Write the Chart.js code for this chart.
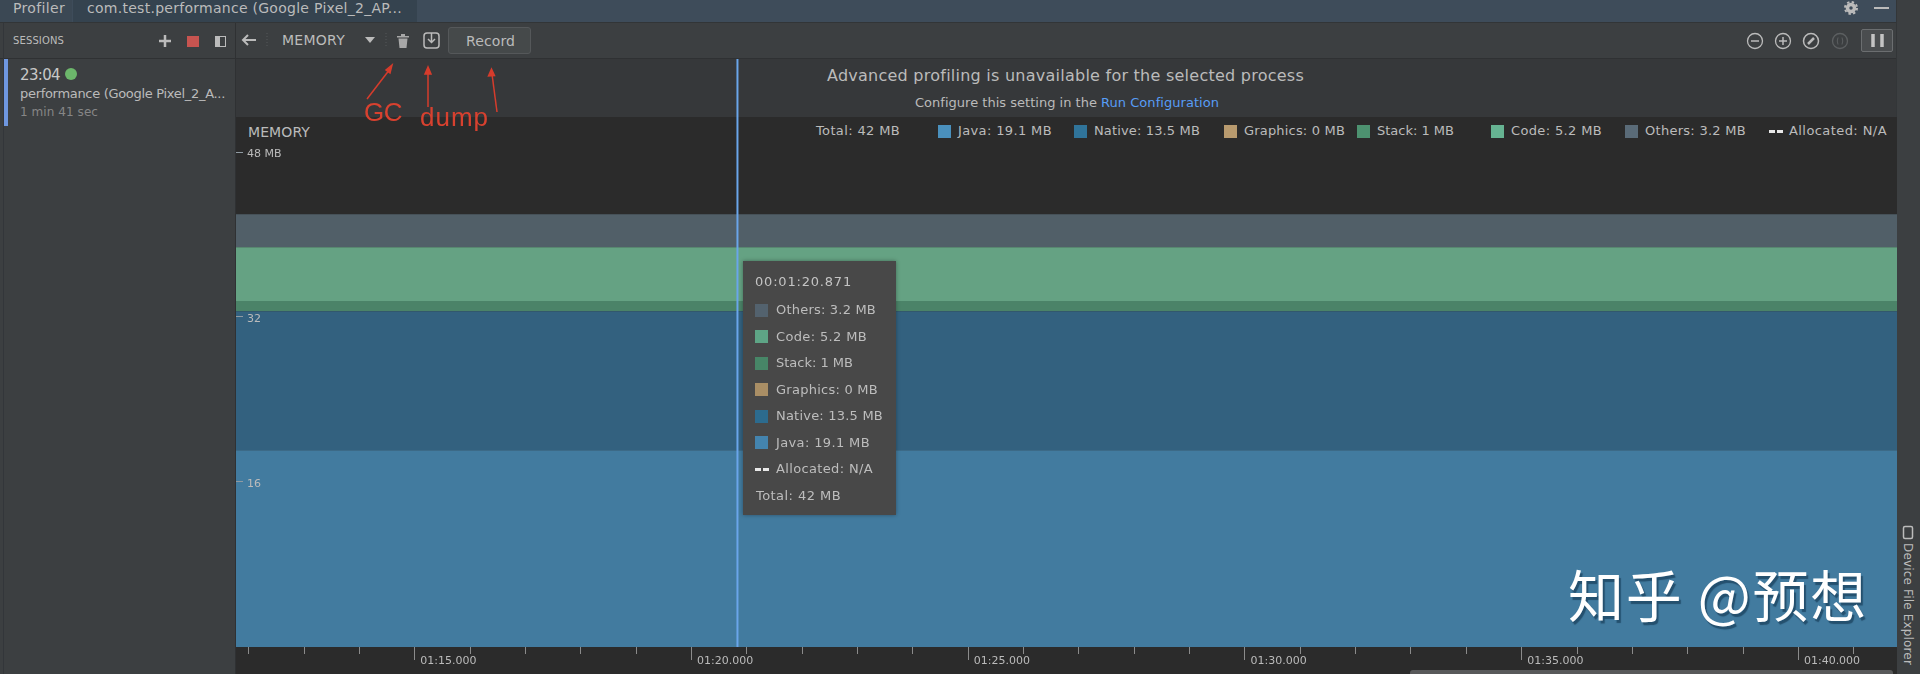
<!DOCTYPE html>
<html lang="en">

<head>
    <meta charset="UTF-8">
    <title>Profiler - Memory</title>
    <script src="https://cdn.jsdelivr.net/npm/chart.js"></script>
    <style>
        html, body { margin: 0; padding: 0; width: 1920px; height: 674px; overflow: hidden; background: #3c3f41; }
        body { font-family: "DejaVu Sans", sans-serif; }
        .box { position: absolute; }
        .txt { position: absolute; white-space: nowrap; transform: translateY(-50%); line-height: 1.2; }
        #chart { position: absolute; left: 0; top: 0; z-index: 2; }
        #under { position: absolute; left: 0; top: 0; z-index: 1; }
        #over { position: absolute; left: 0; top: 0; z-index: 3; }
        svg { position: absolute; left: 0; top: 0; }
    </style>
</head>

<body>
    <div id="under"></div>
    <canvas id="chart" width="1920" height="674"></canvas>
    <div id="over"></div>

    <script>
        const sampleTimes = [71, 76, 81, 86, 91, 96, 102];
        const javaValues = [19.1, 19.1, 19.1, 19.1, 19.1, 19.1, 19.1];
        const nativeValues = [13.5, 13.5, 13.5, 13.5, 13.5, 13.5, 13.5];
        const graphicsValues = [0, 0, 0, 0, 0, 0, 0];
        const stackValues = [1, 1, 1, 1, 1, 1, 1];
        const codeValues = [5.2, 5.2, 5.2, 5.2, 5.2, 5.2, 5.2];
        const othersValues = [3.2, 3.2, 3.2, 3.2, 3.2, 3.2, 3.2];

        const seriesNames = ['Java', 'Native', 'Graphics', 'Stack', 'Code', 'Others'];
        const seriesLast = [19.1, 13.5, 0, 1, 5.2, 3.2];
        const totalValue = 42;
        const cursorTime = 80.84;
        const cursorLabel = '00:01:20.871';
        const yTicks = [16, 32, 48];

        const bandColors = ['#427b9f', '#33617f', '#a98a62', '#4b8368', '#65a283', '#515f68'];
        const swatchColors = ['#4a90bd', '#30749a', '#b89a6e', '#4d9270', '#66b392', '#5a6b78'];

        const under = document.getElementById('under');
        const over = document.getElementById('over');

        function box(parent, x, y, w, h, color, extra) {
            const d = document.createElement('div');
            d.className = 'box';
            d.style.cssText = `left:${x}px;top:${y}px;width:${w}px;height:${h}px;background:${color};${extra || ''}`;
            parent.appendChild(d);
            return d;
        }

        // width = wanted text width, the tracking is fitted to it
        function text(parent, str, x, y, size, color, width, font) {
            const d = document.createElement('div');
            d.className = 'txt';
            d.textContent = str;
            d.style.cssText = `left:${x}px;top:${y}px;font-size:${size}px;color:${color};` + (font ? `font-family:${font};` : '');
            parent.appendChild(d);
            if (width) {
                const w = d.getBoundingClientRect().width;
                d.style.letterSpacing = ((width - w) / str.length) + 'px';
            }
            return d;
        }

        // ide frame
        box(under, 0, 0, 1920, 674, '#3c3f41');
        box(under, 0, 0, 1896, 22, '#3e4c5a');
        box(under, 0, 0, 72, 22, '#3b4854');
        box(under, 73, 0, 344, 22, '#35434f');
        box(under, 0, 22, 1896, 1, '#323537');
        box(under, 236, 23, 1660, 35, '#3c3f41');
        box(under, 0, 58, 1896, 1, '#2f3133');
        box(under, 235, 23, 1, 651, '#2f3133');
        box(under, 3, 23, 1, 651, '#33363a');
        box(under, 1896, 0, 1, 674, '#333638');
        box(under, 236, 59, 1660, 58, '#36383a');
        box(under, 236, 117, 1661, 557, '#2b2b2b');
        box(under, 4, 59, 4, 67, '#6f97e0');
        box(under, 187, 36, 12, 11, '#c75450');
        box(under, 448, 27, 83, 27, '#45494a', 'border:1px solid #55585a;border-radius:3px;box-sizing:border-box;');
        box(under, 1861, 29, 32, 23, '#4a4d4f', 'border:1px solid #6b6e70;border-radius:2px;box-sizing:border-box;');
        box(under, 1410, 670, 483, 4, '#58595a', 'border-radius:3px 3px 0 0;');

        text(under, 'Profiler', 13, 8, 14, '#bbbbbb', 52);
        text(under, 'com.test.performance (Google Pixel_2_AP...', 87, 8, 14, '#bbbbbb', 315);
        text(under, 'SESSIONS', 13, 41, 10, '#bbbbbb', 51);
        text(under, 'MEMORY', 282, 40, 14, '#bbbbbb', 63);
        text(under, 'Record', 466, 41, 14, '#bbbbbb', 49);
        text(under, '23:04', 20, 75, 15, '#c8c8c8', 40);
        box(under, 65, 68, 12, 12, '#6cb76b', 'border-radius:50%;');
        text(under, 'performance (Google Pixel_2_A...', 20, 94, 13, '#bbbbbb', 205);
        text(under, '1 min 41 sec', 20, 112, 12, '#868686', 78);
        text(under, 'Advanced profiling is unavailable for the selected process', 827, 76, 16, '#bbbbbb', 477);
        text(under, 'Configure this setting in the ', 915, 103, 13, '#bbbbbb', 182);
        text(under, 'Run Configuration', 1101, 103, 13, '#589df6', 118);
        text(under, 'MEMORY', 248, 132, 14, '#bbbbbb', 62);

        // legend row
        const legendX = [938, 1074, 1224, 1357, 1491, 1625];
        const legendW = [94, 106, 101, 77, 91, 101];
        text(under, `Total: ${totalValue} MB`, 816, 131, 13, '#bbbbbb', 84);
        seriesNames.forEach((name, i) => {
            box(under, legendX[i], 125, 13, 13, swatchColors[i]);
            text(under, `${name}: ${seriesLast[i]} MB`, legendX[i] + 20, 131, 13, '#bbbbbb', legendW[i]);
        });
        box(under, 1769, 130, 6, 3, '#e8e8e8');
        box(under, 1777, 130, 6, 3, '#e8e8e8');
        text(under, 'Allocated: N/A', 1789, 131, 13, '#bbbbbb', 98);

        // side tab
        const side = text(under, 'Device File Explorer', 1908, 604, 12, '#bbbbbb', 122);
        side.style.transform = 'translate(-50%,-50%) rotate(90deg)';

        // toolbar icons + red notes
        const ns = `<svg width="1920" height="674" xmlns="http://www.w3.org/2000/svg">
            <g stroke="#bbbbbb" stroke-width="2" fill="none">
                <path d="M159 41h12M165 35v12" stroke-width="2.5"/>
                <rect x="215.500" y="36.500" width="10" height="10" stroke-width="1"/>
                <rect x="216" y="37" width="4" height="9" fill="#bbbbbb" stroke="none"/>
                <path d="M256 40h-13M248 35l-5 5 5 5"/>
                <rect x="424" y="33" width="15" height="15" rx="3" stroke-width="1.5"/>
                <path d="M431.500 33v9M428 39l3.500 3.500L435 39" stroke-width="1.5"/>
                <circle cx="1755" cy="41" r="7.500" stroke-width="1.300"/><path d="M1751 41h8" stroke-width="1.500"/>
                <circle cx="1783" cy="41" r="7.500" stroke-width="1.300"/><path d="M1779 41h8M1783 37v8" stroke-width="1.500"/>
                <circle cx="1811" cy="41" r="7.500" stroke-width="1.500"/><path d="M1808 44l6-6" stroke-width="2.500"/>
                <circle cx="1840" cy="41" r="7.500" stroke-width="1.300" stroke="#5c5f61"/>
                <path d="M1838 37.500q-1.500 3.500 0 7M1842 37.500q1.500 3.500 0 7" stroke-width="1" stroke="#5c5f61"/>
                <path d="M1873 34v13M1882 34v13" stroke-width="3.500" stroke="#c4c4c4"/>
                <path d="M1874 8h15" stroke-width="2"/>
                <circle cx="1851" cy="8" r="3.500" stroke-width="3.500"/>
                <circle cx="1851" cy="8" r="6" stroke-width="2" stroke-dasharray="2.400 2.310"/>
                <rect x="1903.500" y="526.500" width="9" height="12" rx="1.500" stroke-width="1.500"/>
            </g>
            <path d="M365 37h10l-5 6z" fill="#bbbbbb"/>
            <path d="M397 36h12v1.500h-12zM398.500 38.500h9l-1 9.500h-7zM401 34h4v2h-4z" fill="#a8a8a8"/>
            <path d="M267 33v15M386 33v15" stroke="#55585a" stroke-dasharray="1 2"/>
        </svg>`;
        under.insertAdjacentHTML('beforeend', ns);

        const notes = `<svg width="1920" height="674" xmlns="http://www.w3.org/2000/svg">
            <g stroke="#d63c2c" stroke-width="1.500" fill="#d63c2c">
                <path d="M367 99L390 69"/><path d="M392 65l-6 5 4 3z"/>
                <path d="M428 107V72"/><path d="M428 67l-3 7h6z"/>
                <path d="M497 112L492 74"/><path d="M491.500 69l-3 7 6-.5z"/>
            </g>
        </svg>`;
        over.insertAdjacentHTML('beforeend', notes);
        text(over, 'GC', 364, 113, 26, '#d8412f', 38, '"Liberation Sans"');
        text(over, 'dump', 420, 118, 26, '#d8412f', 69, '"Liberation Sans"');

        // tooltip
        box(over, 743, 261, 153, 254, '#484848', 'box-shadow:0 0 4px rgba(0,0,0,.35);');
        text(over, cursorLabel, 755, 282, 13, '#c4c4c4', 97);
        const tipRows = [5, 4, 3, 2, 1, 0];
        const tipW = [100, 91, 77, 102, 107, 94];
        tipRows.forEach((s, i) => {
            const y = 310 + i * 26.500;
            box(over, 755, y - 6.500, 13, 13, swatchColors[s], 'filter:brightness(.92);');
            text(over, `${seriesNames[s]}: ${seriesLast[s]} MB`, 776, y, 13, '#bdbdbd', tipW[i]);
        });
        box(over, 755, 468, 6, 3, '#e8e8e8');
        box(over, 763, 468, 6, 3, '#e8e8e8');
        text(over, 'Allocated: N/A', 776, 469, 13, '#bdbdbd', 97);
        text(over, `Total: ${totalValue} MB`, 756, 496, 13, '#bdbdbd', 85);

        // watermark
        const mark = text(over, '知乎 @预想', 1568, 593, 56, '#ffffff', 300, '"Noto Sans CJK SC"');
        mark.style.textShadow = '2px 3px 1px #24506e';

        function seriesData(values) {
            return values.map((v, i) => ({ x: sampleTimes[i], y: v }));
        }

        const allValues = [javaValues, nativeValues, graphicsValues, stackValues, codeValues, othersValues];

        // tick marks and the cursor line
        const marksPlugin = {
            id: 'marks',
            afterDraw(chart) {
                const { ctx, chartArea, scales } = chart;
                ctx.save();
                ctx.strokeStyle = '#8b8b8b';
                ctx.lineWidth = 1;
                scales.x.ticks.forEach(t => {
                    const px = Math.round(scales.x.getPixelForValue(t.value)) + 0.5;
                    ctx.beginPath();
                    ctx.moveTo(px, chartArea.bottom);
                    ctx.lineTo(px, chartArea.bottom + (t.value % 5 === 0 ? 13 : 7));
                    ctx.stroke();
                });
                ctx.strokeStyle = '#8f9aa2';
                scales.y.ticks.forEach(t => {
                    const py = Math.round(scales.y.getPixelForValue(t.value)) - 0.5;
                    ctx.beginPath();
                    ctx.moveTo(chartArea.left, py);
                    ctx.lineTo(chartArea.left + 7, py);
                    ctx.stroke();
                });
                const cx = scales.x.getPixelForValue(cursorTime);
                ctx.strokeStyle = '#6aa5ea';
                ctx.lineWidth = 2;
                ctx.beginPath();
                ctx.moveTo(cx, 59);
                ctx.lineTo(cx, chartArea.bottom);
                ctx.stroke();
                ctx.restore();
            }
        };

        new Chart(document.getElementById('chart').getContext('2d'), {
            type: 'line',
            data: {
                datasets: seriesNames.map((name, i) => ({
                    label: name,
                    data: seriesData(allValues[i]),
                    backgroundColor: bandColors[i],
                    borderWidth: 0,
                    pointRadius: 0,
                    fill: i === 0 ? 'origin' : '-1'
                }))
            },
            plugins: [marksPlugin],
            options: {
                responsive: false,
                animation: false,
                devicePixelRatio: 1,
                layout: { padding: { left: 236, right: 23, top: 117, bottom: 0 } },
                plugins: { legend: { display: false }, tooltip: { enabled: false } },
                scales: {
                    x: {
                        type: 'linear',
                        min: 71.78,
                        max: 101.79,
                        afterFit: s => { s.height = 27; },
                        grid: { display: false },
                        border: { display: false },
                        ticks: {
                            stepSize: 1,
                            includeBounds: false,
                            autoSkip: false,
                            maxRotation: 0,
                            align: 'start',
                            labelOffset: 6,
                            padding: 0,
                            color: '#bbbbbb',
                            font: { family: '"DejaVu Sans"', size: 11 },
                            callback: v => {
                                if (v % 5 !== 0) return '';
                                const mm = String(Math.floor(v / 60)).padStart(2, '0');
                                const ss = String(v % 60).padStart(2, '0');
                                return `${mm}:${ss}.000`;
                            }
                        }
                    },
                    y: {
                        stacked: true,
                        min: 0,
                        max: 51.45,
                        afterFit: s => { s.width = 0; },
                        afterBuildTicks: s => { s.ticks = yTicks.map(v => ({ value: v })); },
                        grid: { display: false },
                        border: { display: false },
                        ticks: {
                            mirror: true,
                            padding: 11,
                            labelOffset: 1.5,
                            z: 1,
                            color: '#bbbbbb',
                            font: { family: '"DejaVu Sans"', size: 11 },
                            callback: v => v === 48 ? '48 MB' : String(v)
                        }
                    }
                }
            }
        });
    </script>
</body>

</html>
